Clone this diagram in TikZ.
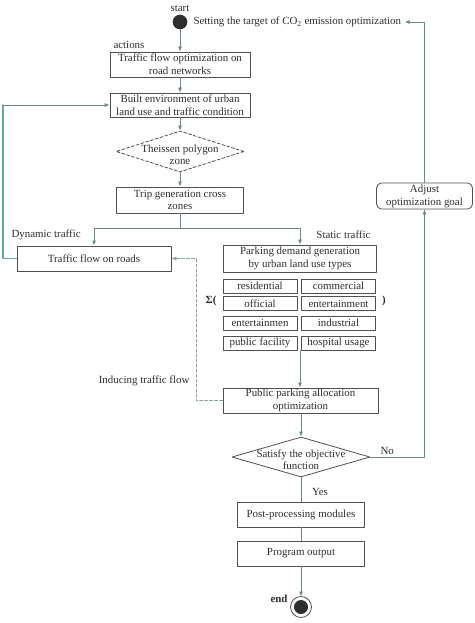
\documentclass[tikz,border=0pt]{standalone}
\usepackage{fontspec}
\setmainfont{Liberation Serif}
\usetikzlibrary{shapes.geometric,arrows.meta}
\definecolor{pijl}{HTML}{6A8886}
\definecolor{groen}{HTML}{5FAE98}
\definecolor{rand}{HTML}{505050}
\definecolor{tekst}{HTML}{2E2E2E}

\begin{document}
\begin{tikzpicture}[x=1pt, y=-1pt, line cap=round, line join=round,
    >={Latex[length=5pt,width=4pt]}, font=\fontsize{10.9}{12.8}\selectfont, text=tekst,
    blok/.style={draw=rand, line width=0.8pt, rectangle, align=center, inner sep=1pt, minimum height=25pt},
    klein/.style={draw=rand, line width=0.8pt, rectangle, inner sep=0pt, minimum width=74pt, minimum height=14pt},
    ruit/.style={draw=rand, line width=0.8pt, diamond, inner sep=0pt},
    ruittekst/.style={align=center, yshift=-3pt, font=\fontsize{10.9}{12}\selectfont},
    pijlen/.style={->, draw=pijl, line width=0.8pt},
    lijn/.style={draw=pijl, line width=0.8pt}]
        \useasboundingbox (0,0) rectangle (474,623);

        % Start en doel
        \fill[tekst] (180,22) circle (7.3pt) coordinate (start);
        \node at (180,8) {start};
        \node[anchor=west] (doel) at (190,22) {Setting the target of CO\textsubscript{2} emission optimization};
        \node[anchor=west] at (110,45) {actions};

        % Bovenste kolom
        \node[blok, minimum width=140pt] (wegnet) at (180,64.5) {Traffic flow optimization on\\road networks};
        \node[blok, minimum width=140pt, minimum height=24pt] (omgeving) at (180,105) {Built environment of urban\\land use and traffic condition};
        \node[ruit, densely dashed, minimum width=128pt, minimum height=41pt,
              label={[ruittekst]center:{Theissen polygon\\zone}}] (zone) at (180,151.5) {};
        \node[blok, minimum width=127pt, minimum height=26pt] (trip) at (180,200) {Trip generation cross\\zones};

        \draw[pijlen] (start) ++(0,7.3) -- (wegnet.north);
        \draw[pijlen] (wegnet) -- (omgeving);
        \draw[pijlen] (omgeving) -- (zone);
        \draw[pijlen] (zone) -- (trip);

        % Splitsing dynamisch / statisch
        \node[blok, minimum width=154pt] (wegen) at (94,258.5) {Traffic flow on roads};
        \node[blok, minimum width=153pt, minimum height=27pt] (parkeer) at (300,258.5) {Parking demand generation\\by urban land use types};
        \coordinate (split) at (180,228);
        \draw[lijn] (trip.south) -- (split);
        \draw[pijlen] (split) -| (wegen.north);
        \draw[pijlen] (split) -| (parkeer.north);
        \node[anchor=west] at (8,235) {Dynamic traffic};
        \node[anchor=east] at (374,235) {Static traffic};

        % Grondgebruik
        \node[klein] (res) at (260,286) {residential};
        \node[klein] (com) at (338.5,286) {commercial};
        \node[klein] (off) at (260,303.5) {official};
        \node[klein] (ent) at (338.5,303.5) {entertainment};
        \node[klein] (enm) at (260,323) {entertainmen};
        \node[klein] (ind) at (338.5,323) {industrial};
        \node[klein] (pub) at (260,343) {public facility};
        \node[klein] (hos) at (338.5,343) {hospital usage};
        \node at (211,301) {\textbf{Σ(}};
        \node at (384,301) {\textbf{)}};

        % Parkeerallocatie
        \node[blok, minimum width=155pt] (alloc) at (300.5,400.5) {Public parking allocation\\optimization};
        \coordinate (grid) at (300,350.5);
        \draw[pijlen] (grid) -- (grid |- alloc.north);
        \coordinate (ind1) at (196,400.5);
        \coordinate (ind2) at (196,258.5);
        \draw[pijlen, densely dashed, draw=pijl!80] (alloc.west) -- (ind1) -- (ind2) -- (wegen.east);
        \node[anchor=east] at (193,381) {Inducing traffic flow};

        % Terugkoppeling dynamisch verkeer
        \coordinate (g1) at (3,258.5);
        \coordinate (g2) at (3,105);
        \draw[groen, line width=1.6pt] (wegen.west) -- (g1) -- (g2);
        \draw[pijlen] (g2) -- (omgeving.west);

        % Beslissing
        \node[ruit, minimum width=138pt, minimum height=40pt,
              label={[ruittekst]center:{Satisfy the objective\\function}}] (doelfunctie) at (301,457) {};
        \draw[pijlen] (alloc.south -| doelfunctie) -- (doelfunctie.north);
        \node[draw=rand, line width=0.8pt, rounded corners=5pt, align=center, inner sep=1pt,
              minimum width=96pt, minimum height=26pt] (bijstel) at (424.5,196) {Adjust\\optimization goal};
        \coordinate (nee) at (424.5,457);
        \coordinate (terug) at (424.5,22);
        \draw[pijlen] (doelfunctie.east) -- (nee) -- (bijstel.south);
        \draw[pijlen] (bijstel.north) -- (terug) -- (doel.east);
        \node[anchor=west] at (377,451) {No};
        \node at (320,492) {Yes};

        % Afronding
        \node[blok, minimum width=127pt] (post) at (301,514.5) {Post-processing modules};
        \node[blok, minimum width=127pt] (output) at (301,553.5) {Program output};
        \draw[lijn] (doelfunctie.south) -- (post.north);
        \draw[lijn] (post) -- (output);
        \draw[rand, line width=0.8pt] (301,607) circle (10.5pt);
        \fill[tekst] (301,607) circle (7pt);
        \coordinate (eind) at (301,596.5);
        \draw[pijlen] (output.south) -- (eind);
        \node at (279,599) {\textbf{end}};
\end{tikzpicture}
\end{document}
